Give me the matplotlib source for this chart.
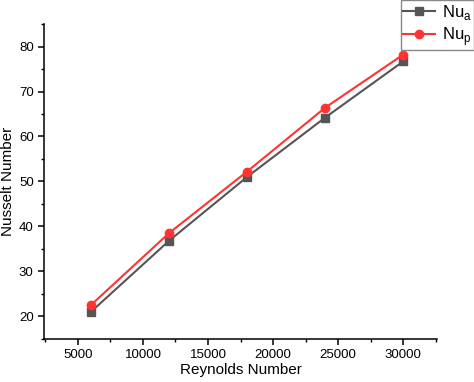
import matplotlib
matplotlib.use('Agg')
import matplotlib.pyplot as plt
from matplotlib.ticker import MultipleLocator

plt.rcParams['font.family'] = ['Liberation Sans', 'DejaVu Sans']

reynolds = [6000, 12000, 18000, 24000, 30000]
nu_a = [21.0, 36.8, 51.0, 64.2, 76.7]
nu_p = [22.5, 38.5, 52.2, 66.4, 78.2]

fig = plt.figure(figsize=(4.74, 3.82), dpi=100)
ax = fig.add_axes([0.093, 0.113, 0.829, 0.824])

ax.plot(reynolds, nu_a, color='#555555', marker='s', markersize=5.5, lw=1.5, label='Nu$_\\mathregular{a}$')
ax.plot(reynolds, nu_p, color='#ff3333', marker='o', markersize=6, lw=1.5, label='Nu$_\\mathregular{p}$')

ax.set_xlim(2400, 32600)
ax.set_ylim(15, 85)
ax.xaxis.set_major_locator(MultipleLocator(5000))
ax.xaxis.set_minor_locator(MultipleLocator(2500))
ax.yaxis.set_major_locator(MultipleLocator(10))
ax.yaxis.set_minor_locator(MultipleLocator(5))
ax.set_xticks([5000, 10000, 15000, 20000, 25000, 30000])
ax.set_yticks([20, 30, 40, 50, 60, 70, 80])

for s in ['top', 'right']:
    ax.spines[s].set_visible(False)
for s in ['left', 'bottom']:
    ax.spines[s].set_linewidth(1.1)
ax.tick_params(which='major', length=4, width=1.1, labelsize=9.5, direction='out')
ax.tick_params(which='minor', length=2.5, width=1.0, direction='out')

ax.set_xlabel('Reynolds Number', fontsize=11, labelpad=1)
ax.set_ylabel('Nusselt Number', fontsize=11, labelpad=3)

leg = ax.legend(loc='upper right', bbox_to_anchor=(1.0, 1.0), bbox_transform=fig.transFigure,
                fontsize=12, frameon=True, fancybox=False, edgecolor='#888888', framealpha=1,
                handlelength=1.9, borderpad=0.15, labelspacing=0.2, handletextpad=0.4,
                borderaxespad=0.0)
leg.get_frame().set_linewidth(1.0)

fig.savefig('out.png', dpi=100)
